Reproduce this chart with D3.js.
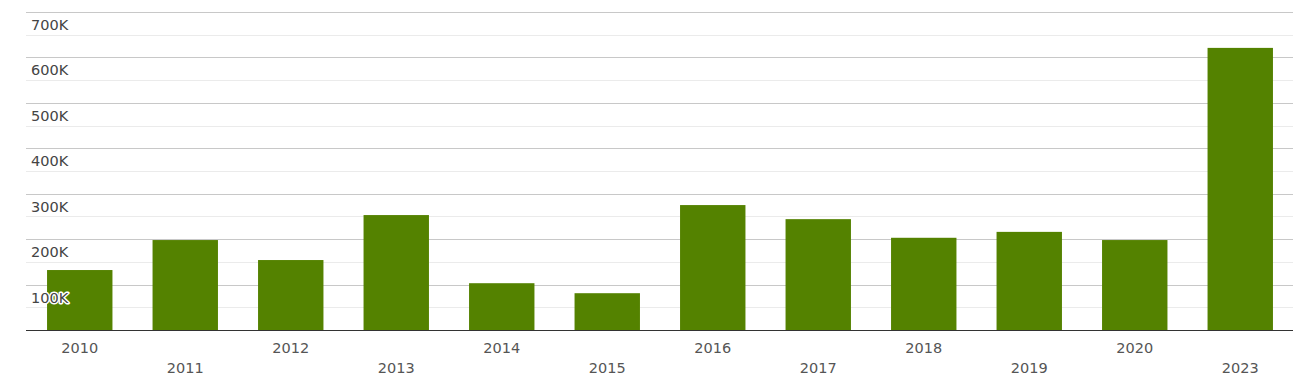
<!DOCTYPE html>
<html>
<head>
<meta charset="utf-8">
<style>
    body { margin: 0; background: #fff; }
    svg { display: block; font-family: 'DejaVu Sans', Verdana, sans-serif; }
    .ylab { font-size: 14.5px; fill: #444; stroke: #fff; stroke-width: 3px; paint-order: stroke; stroke-linejoin: round; }
    .xlab { font-size: 14.5px; fill: #555; }
</style>
</head>
<body>
<svg width="1293" height="384"></svg>
<script src="https://d3js.org/d3.v7.min.js"></script>
<script>
    // values
    const years = ['2010', '2011', '2012', '2013', '2014', '2015', '2016', '2017', '2018', '2019', '2020', '2023'];
    const values = [132000, 198000, 154000, 253000, 103000, 81000, 275000, 244000, 203000, 216000, 198000, 621000];
    const majorTicks = [100000, 200000, 300000, 400000, 500000, 600000, 700000];
    const minorTicks = [50000, 150000, 250000, 350000, 450000, 550000, 650000];

    let svg = d3.select('svg');
    let plotLeft = 26, plotRight = 1293, plotTop = 12, plotBottom = 330;

    let x = d3.scaleBand()
        .domain(years)
        .range([plotLeft + 1, plotRight])
        .paddingInner(0.38)
        .paddingOuter(0.19);

    let y = d3.scaleLinear()
        .domain([0, 700000])
        .range([plotBottom, plotTop]);

    let fmt = v => (v / 1000) + 'K';

    // minor grid
    svg.append('g')
        .selectAll('line')
        .data(minorTicks)
        .join('line')
        .attr('x1', plotLeft).attr('x2', plotRight)
        .attr('y1', d => Math.round(y(d)) + 0.5).attr('y2', d => Math.round(y(d)) + 0.5)
        .style('stroke', '#ebebeb')
        .style('stroke-width', 1);

    // major grid
    svg.append('g')
        .selectAll('line')
        .data(majorTicks)
        .join('line')
        .attr('x1', plotLeft).attr('x2', plotRight)
        .attr('y1', d => Math.round(y(d)) + 0.5).attr('y2', d => Math.round(y(d)) + 0.5)
        .style('stroke', '#c8c8c8')
        .style('stroke-width', 1);

    // bars
    svg.append('g')
        .selectAll('rect')
        .data(years)
        .join('rect')
        .attr('x', d => x(d))
        .attr('width', x.bandwidth())
        .attr('y', (d, i) => y(values[i]))
        .attr('height', (d, i) => plotBottom - y(values[i]))
        .style('fill', '#548200');

    // baseline
    svg.append('line')
        .attr('x1', plotLeft).attr('x2', plotRight)
        .attr('y1', plotBottom + 0.5).attr('y2', plotBottom + 0.5)
        .style('stroke', '#333')
        .style('stroke-width', 1);

    // y labels, below each major gridline
    svg.append('g')
        .selectAll('text')
        .data(majorTicks)
        .join('text')
        .attr('class', 'ylab')
        .attr('x', 31)
        .attr('y', d => y(d) + 18)
        .text(fmt);

    // x labels in two staggered rows
    svg.append('g')
        .selectAll('text')
        .data(years)
        .join('text')
        .attr('class', 'xlab')
        .attr('x', d => x(d) + x.bandwidth() / 2)
        .attr('y', (d, i) => i % 2 === 0 ? 353 : 373)
        .attr('text-anchor', 'middle')
        .text(d => d);
</script>
</body>
</html>
